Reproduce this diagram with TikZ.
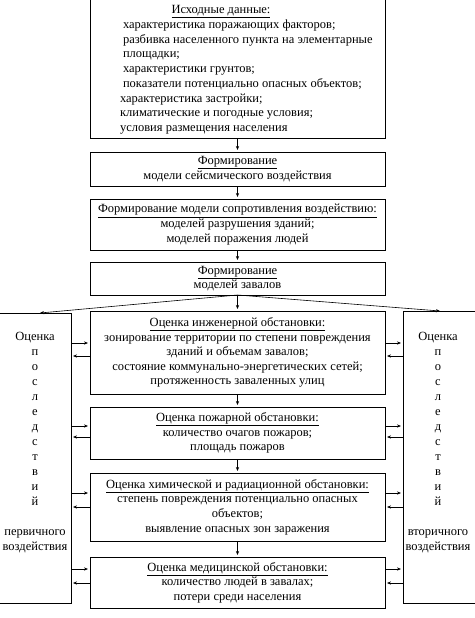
\documentclass[tikz,border=0pt]{standalone}
\usepackage{fontspec}
\setmainfont{Liberation Serif}
\usetikzlibrary{arrows.meta}
\begin{document}
\begin{tikzpicture}[x=1pt,y=-1pt,
  box/.style={draw, line width=0.7pt, outer sep=0pt, inner sep=0pt, minimum width=295pt, anchor=north, align=center, font=\fontsize{12.5}{14.6}\selectfont},
  side/.style={draw, line width=0.7pt, outer sep=0pt, inner sep=0pt, minimum width=73pt, minimum height=290pt, anchor=north},
  txt/.style={inner sep=0pt, outer sep=0pt, font=\fontsize{12.5}{14.7}\selectfont},
  arr/.style={-{Stealth[length=4pt,width=3.2pt]}, line width=0.6pt, shorten >=2pt}]
\useasboundingbox (0,0) rectangle (474,618);
% top box
\node[box, minimum height=140pt] (src) at (237.5,-2) {};
\node[txt, anchor=base] (srct) at (221,13.5) {\underline{Исходные данные:}};
\node[txt, anchor=north west, align=left] (srcl) at (120,18.3) {\strut\hspace{3pt}характеристика поражающих факторов;\\
\hspace{3pt}разбивка населенного пункта на элементарные\\
\hspace{3pt}площадки;\\
\hspace{3pt}характеристики грунтов;\\
\hspace{3pt}показатели потенциально опасных объектов;\\
характеристика застройки;\\
климатические и погодные условия;\\
условия размещения населения};
% chain
\node[box, minimum height=34pt] (f1) at (237.5,152) {\underline{Формирование}\\модели сейсмического воздействия};
\node[box, minimum height=51pt] (f2) at (237.5,199) {\underline{Формирование модели сопротивления воздействию:}\\моделей разрушения зданий;\\моделей поражения людей};
\node[box, minimum height=33pt] (f3) at (237.5,262) {\underline{Формирование}\\моделей завалов};
\node[box, minimum height=83pt] (eng) at (237.5,311) {\underline{Оценка инженерной обстановки:}\\зонирование территории по степени повреждения\\зданий и объемам завалов;\\состояние коммунально-энергетических сетей;\\протяженность заваленных улиц};
\node[box, minimum height=52pt] (fire) at (237.5,407) {\underline{Оценка пожарной обстановки:}\\количество очагов пожаров;\\площадь пожаров};
\node[box, minimum height=68pt] (chem) at (237.5,473) {\underline{Оценка химической и радиационной обстановки:}\\степень повреждения потенциально опасных\\объектов;\\выявление опасных зон заражения};
\node[box, minimum height=51pt] (med) at (237.5,557) {\underline{Оценка медицинской обстановки:}\\количество людей в завалах;\\потери среди населения};
% side boxes
\node[side] (lside) at (34.5,313) {};
\node[side, minimum height=292pt] (rside) at (439.5,311) {};
\node[txt, anchor=north, align=center, font=\fontsize{12.5}{15}\selectfont] (lsidet) at (35,330) {\strut Оценка\\п\\о\\с\\л\\е\\д\\с\\т\\в\\и\\й\\ \\первичного\\воздействия};
\node[txt, anchor=north, align=center, font=\fontsize{12.5}{15}\selectfont] (rsidet) at (438,330) {\strut Оценка\\п\\о\\с\\л\\е\\д\\с\\т\\в\\и\\й\\ \\вторичного\\воздействия};
% vertical arrows
\draw[arr] (src) -- (f1);
\draw[arr] (f1) -- (f2);
\draw[arr] (f2) -- (f3);
\draw[arr] (f3) -- (eng);
\draw[arr] (eng) -- (fire);
\draw[arr] (fire) -- (chem);
\draw[arr] (chem) -- (med);
\draw[arr, shorten >=0pt] (f3.south) -- ([xshift=42pt]lside.north west);
\draw[arr, shorten >=0pt] (f3.south) -- ([xshift=-36pt]rside.north east);
% horizontal arrows
\foreach \b/\a/\c in {eng/32/45, fire/19/30, chem/20/34, med/12/26} {
  \path ([yshift=-\a pt]\b.north west) coordinate (p1)
        ([yshift=-\c pt]\b.north west) coordinate (p2)
        ([yshift=-\a pt]\b.north east) coordinate (q1)
        ([yshift=-\c pt]\b.north east) coordinate (q2);
  \draw[arr] (p1 -| lside.east) -- (p1);
  \draw[arr] (p2) -- (p2 -| lside.east);
  \draw[arr] (q1) -- (q1 -| rside.west);
  \draw[arr] (q2 -| rside.west) -- (q2);
}
\end{tikzpicture}
\end{document}
